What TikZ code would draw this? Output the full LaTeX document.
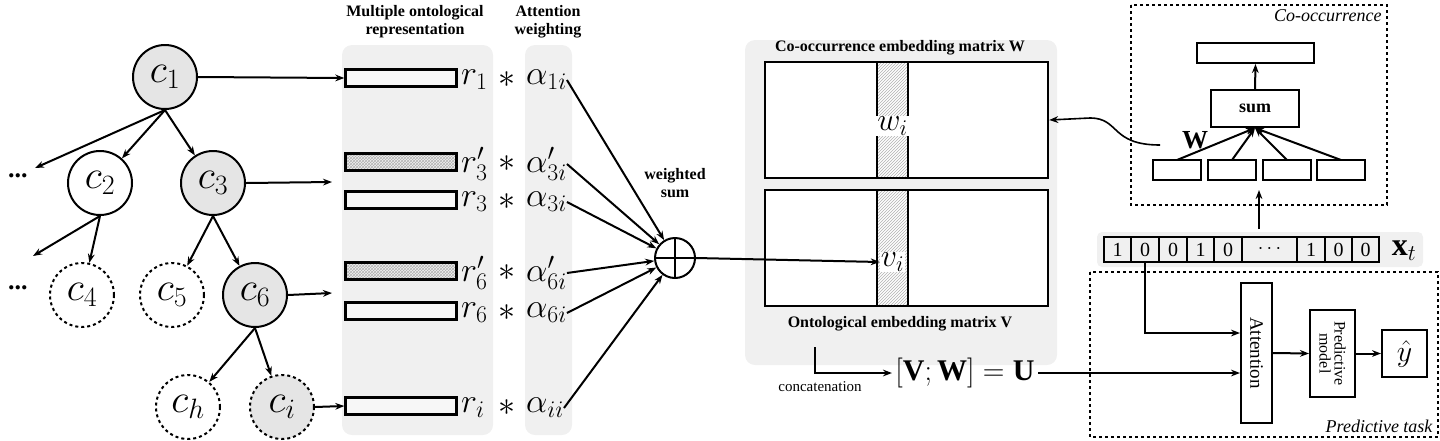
\RequirePackage{fix-cm}
\documentclass[tikz,border=0pt]{standalone}
\usepackage{fontspec}
\setmainfont{Liberation Serif}
\usetikzlibrary{patterns,arrows.meta}
\begin{document}
\begin{tikzpicture}[x=1pt,y=-1pt,
  cnode/.style={circle,draw,line width=2pt,minimum size=64pt,inner sep=0pt,font=\fontsize{40}{40}\selectfont},
  gcnode/.style={cnode,fill=gray!20},
  dnode/.style={cnode,dashed},
  dgnode/.style={cnode,dashed,fill=gray!20},
  bar/.style={draw,line width=2.4pt,fill=gray!6,minimum width=111pt,minimum height=17pt,inner sep=0pt},
  hbar/.style={bar,pattern=crosshatch,pattern color=gray!60},
  arr/.style={-{Stealth[length=9pt]},line width=2pt},
  lab/.style={font=\fontsize{34}{34}\selectfont,anchor=west,inner sep=0pt},
  box/.style={draw,line width=2pt,inner sep=0pt},
  panel/.style={fill=gray!12,rounded corners=10pt},
  btitle/.style={font=\bfseries\fontsize{16}{18}\selectfont,align=center},
  cell/.style={draw,line width=1.8pt,fill=gray!12,minimum height=25pt,inner sep=0pt,font=\fontsize{20}{20}\selectfont}
]
\useasboundingbox (0,0) rectangle (1440,440);
% panels
\fill[panel] (342,45) rectangle (493,435);
\fill[panel] (525,45) rectangle (572,435);
\node[btitle] (t1) at (415,22) {Multiple ontological\\representation};
\node[btitle] (t2) at (548,22) {Attention\\weighting};
% tree
\node[gcnode] (c1) at (165,77) {$c_1$};
\node[cnode] (c2) at (100,183) {$c_2$};
\node[gcnode] (c3) at (213,183) {$c_3$};
\node[dnode] (c4) at (82,295) {$c_4$};
\node[dnode] (c5) at (172,295) {$c_5$};
\node[gcnode] (c6) at (255,295) {$c_6$};
\node[dnode] (ch) at (188,407) {$c_h$};
\node[dgnode] (ci) at (282,407) {$c_i$};
\node[font=\bfseries\fontsize{26}{26}\selectfont] (d1) at (18,176) {...};
\node[font=\bfseries\fontsize{26}{26}\selectfont] (d2) at (18,288) {...};
\coordinate (e1) at (35,168);
\coordinate (e2) at (33,256);
\draw[arr] (c1.south) -- (e1);
\draw[arr] (c1.south) -- (c2);
\draw[arr] (c1.south) -- (c3);
\draw[arr] (c2.south) -- (e2);
\draw[arr] (c2.south) -- (c4);
\draw[arr] (c3.south) -- (c5);
\draw[arr] (c3.south) -- (c6);
\draw[arr] (c6.south) -- (ch);
\draw[arr] (c6.south) -- (ci);
% bars
\node[bar] (b1) at (401,78) {};
\node[hbar] (b3p) at (401,162) {};
\node[bar] (b3) at (401,200) {};
\node[hbar] (b6p) at (401,271) {};
\node[bar] (b6) at (401,311) {};
\node[bar] (bi) at (401,406) {};
\coordinate (a3) at (332,182);
\coordinate (a6) at (332,293);
\draw[arr] (c1.east) -- (b1.west);
\draw[arr] (c3.east) -- (a3);
\draw[arr] (c6.east) -- (a6);
\draw[arr] (ci.east) -- (bi.west);
\foreach \n/\r/\a/\y in {1/{r_1}/{\alpha_{1i}}/80, 3p/{r'_3}/{\alpha'_{3i}}/164, 3/{r_3}/{\alpha_{3i}}/202, 6p/{r'_6}/{\alpha'_{6i}}/273, 6/{r_6}/{\alpha_{6i}}/313, i/{r_i}/{\alpha_{ii}}/408}{
  \node[lab] (r\n) at (461,\y) {$\r$};
  \node[lab] (s\n) at (498,\y) {$*$};
  \node[lab] (al\n) at (526,\y) {$\a$};
}
% sum
\node[circle,draw,line width=2pt,minimum size=40pt,inner sep=0pt] (sum) at (675,258) {};
\draw[line width=1.6pt] (sum.north) -- (sum.south) (sum.west) -- (sum.east);
\node[btitle] (ws) at (675,183) {weighted\\sum};
\foreach \n in {1,3p,3,6p,6,i} \draw[arr] (al\n.east) -- (sum);
% matrices panel
\fill[panel] (745,40) rectangle (1057,365);
\node[btitle] (tw) at (900,48) {Co-occurrence embedding matrix \textbf{W}};
\node[btitle] (tv) at (900,324) {Ontological embedding matrix \textbf{V}};
\node[box,line width=2.4pt,fill=white,minimum width=283pt,minimum height=116pt] (W) at (906.5,120) {};
\node[box,line width=2.4pt,fill=white,minimum width=283pt,minimum height=116pt] (V) at (906.5,248) {};
\node[box,line width=1.4pt,pattern=north east lines,pattern color=gray!60,minimum width=31pt,minimum height=116pt] (sw) at (892.5,120) {};
\node[box,line width=1.4pt,pattern=north east lines,pattern color=gray!60,minimum width=31pt,minimum height=116pt] (sv) at (892.5,248) {};
\node[font=\fontsize{32}{32}\selectfont,fill=white,inner sep=1pt] (wi) at (892.5,126) {$w_i$};
\node[font=\fontsize{32}{32}\selectfont,fill=white,inner sep=1pt] (vi) at (892.5,262) {$v_i$};
\draw[arr] (sum.east) -- (vi.west);
% concatenation
\node[font=\fontsize{30}{30}\selectfont] (U) at (965,373) {$[\mathbf{V};\mathbf{W}]=\mathbf{U}$};
\node[font=\fontsize{15}{15}\selectfont] (cc) at (820,387) {concatenation};
\coordinate (k0) at (815,347);
\draw[arr] (k0) |- (U.west);
% co-occurrence box
\draw[dashed,line width=1.3pt] (1131,5) rectangle (1387,205);
\node[anchor=north east,font=\itshape\fontsize{18}{18}\selectfont] (tco) at (1385,6) {Co-occurrence};
\node[box,minimum width=117pt,minimum height=20pt] (top) at (1255.5,53) {};
\node[box,minimum width=88pt,minimum height=37pt,font=\bfseries\fontsize{18}{18}\selectfont] (sm) at (1255,108.5) {sum};
\foreach \i/\x in {1/1177,2/1232,3/1287,4/1341}
  \node[box,minimum width=48pt,minimum height=20pt] (in\i) at (\x,170) {};
\draw[arr] (sm.north) -- (top.south);
\foreach \x in {1177,1232,1287,1341} \draw[arr] (\x,160) -- (sm.south);
\node[font=\bfseries\fontsize{26}{26}\selectfont] (Wl) at (1195,140) {W};
\coordinate (cs) at (1160,145);
\draw[arr,line width=1.6pt] (cs) .. controls (1110,145) and (1120,118) .. (1090,118) -- (W.east);
% x_t
\fill[fill=gray!12,rounded corners=5pt] (1097,232) rectangle (1423,267);
\foreach \i/\xa/\xb/\t in {1/1104/1131/1,2/1131/1159/0,3/1159/1187/0,4/1187/1214/1,5/1214/1242/0,6/1242/1297/{$\cdots$},7/1297/1325/1,8/1325/1352/0,9/1352/1379/0}
  \node[cell,minimum width={\xb-\xa}] (x\i) at ({(\xa+\xb)/2},249.5) {\t};
\node[font=\fontsize{32}{32}\selectfont] (xt) at (1404,251) {$\mathbf{x}_t$};
\coordinate (up0) at (1259,229);
\coordinate (up1) at (1259,190);
\draw[arr] (up0) -- (up1);
% predictive box
\draw[dashed,line width=1.3pt] (1090,272) rectangle (1438,437);
\node[anchor=south east,font=\itshape\fontsize{18}{18}\selectfont] (tpt) at (1436,436) {Predictive task};
\node[box,minimum width=31pt,minimum height=140pt] (att) at (1256.5,353) {};
\node[rotate=-90,font=\fontsize{19}{19}\selectfont] (attl) at (att) {Attention};
\node[box,minimum width=45pt,minimum height=87pt] (pm) at (1332.5,353.5) {};
\node[rotate=-90,font=\fontsize{16}{15}\selectfont,align=center] (pml) at (pm) {Predictive\\model};
\node[box,minimum width=45pt,minimum height=47pt,font=\fontsize{30}{30}\selectfont] (yh) at (1404.5,353.5) {$\hat{y}$};
\draw[arr] (x2.south) |- (att.west |- 0,333);
\draw[arr] (U.east) -- (att.west |- U.east);
\draw[arr] (att.east |- 0,353) -- (pm.west);
\draw[arr] (pm.east) -- (yh.west);
\end{tikzpicture}
\end{document}
